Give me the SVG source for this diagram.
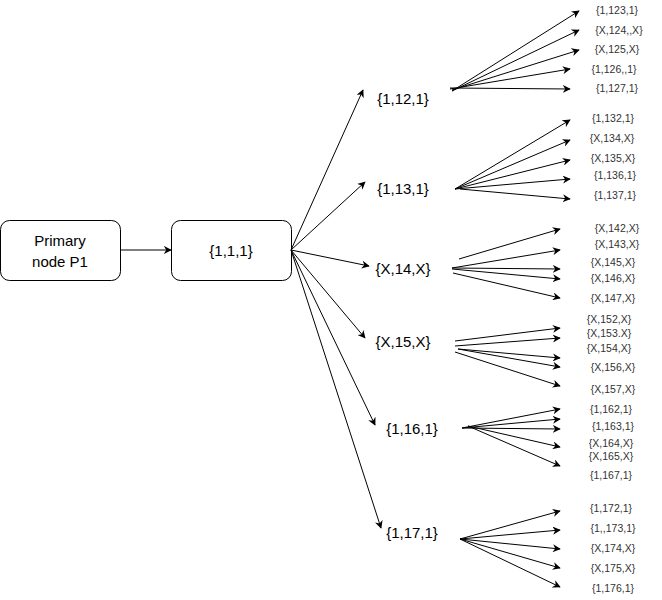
<svg xmlns="http://www.w3.org/2000/svg" width="662" height="600" viewBox="0 0 662 600">
<style>
.b{fill:#fff;stroke:#000;stroke-width:1}
.t{font-family:"Liberation Sans",Arial,sans-serif;font-size:15px;fill:#000;text-anchor:middle;dominant-baseline:central}
.s{font-family:"Liberation Sans",Arial,sans-serif;font-size:10.5px;fill:#333;text-anchor:middle;dominant-baseline:central}
.c line{stroke:#000;stroke-width:1;marker-end:url(#a)}
</style>
<defs><marker id="a" viewBox="0 0 10 10" refX="9" refY="5" markerWidth="8" markerHeight="8" markerUnits="userSpaceOnUse" orient="auto"><path d="M0,0 L10,5 L0,10 L3,5 Z" fill="#000"/></marker></defs>
<rect width="662" height="600" fill="#fff"/>
<g id="p1"><rect class="b" x="0.5" y="220.5" width="120" height="60" rx="9"/><text class="t" x="60" y="240">Primary</text><text class="t" x="60" y="261">node P1</text></g>
<g id="n111"><rect class="b" x="171.5" y="220.5" width="120" height="60" rx="9"/><text class="t" x="231" y="250">{1,1,1}</text></g>
<g id="l2">
<text class="t" x="403" y="98">{1,12,1}</text>
<text class="t" x="403" y="188">{1,13,1}</text>
<text class="t" x="403" y="268">{X,14,X}</text>
<text class="t" x="403" y="341">{X,15,X}</text>
<text class="t" x="412" y="428">{1,16,1}</text>
<text class="t" x="412" y="532">{1,17,1}</text>
</g>
<g id="l3">
<text class="s" x="617" y="10">{1,123,1}</text><text class="s" x="619" y="30">{X,124,,X}</text><text class="s" x="617" y="49">{X,125,X}</text><text class="s" x="614" y="69">{1,126,,1}</text><text class="s" x="617" y="88">{1,127,1}</text>
<text class="s" x="613" y="118">{1,132,1}</text><text class="s" x="612" y="138">{X,134,X}</text><text class="s" x="613" y="158">{X,135,X}</text><text class="s" x="615" y="175">{1,136,1}</text><text class="s" x="615" y="195">{1,137,1}</text>
<text class="s" x="617" y="228">{X,142,X}</text><text class="s" x="617" y="244">{X,143,X}</text><text class="s" x="613" y="262">{X,145,X}</text><text class="s" x="613" y="278">{X,146,X}</text><text class="s" x="613" y="298">{X,147,X}</text>
<text class="s" x="609" y="319">{X,152,X}</text><text class="s" x="609" y="333">{X,153.X}</text><text class="s" x="609" y="348">{X,154,X}</text><text class="s" x="613" y="367">{X,156,X}</text><text class="s" x="613" y="389">{X,157,X}</text>
<text class="s" x="611" y="409">{1,162,1}</text><text class="s" x="613" y="426">{1,163,1}</text><text class="s" x="611" y="443">{X,164,X}</text><text class="s" x="611" y="456">{X,165,X}</text><text class="s" x="611" y="475">{1,167,1}</text>
<text class="s" x="611" y="508">{1,172,1}</text><text class="s" x="613" y="528">{1,,173,1}</text><text class="s" x="613" y="548">{X,174,X}</text><text class="s" x="613" y="568">{X,175,X}</text><text class="s" x="613" y="588">{1,176,1}</text>
</g>
<g class="c" id="connectors">
<line x1="121" y1="250" x2="171" y2="250"/>
<line x1="291" y1="250" x2="363" y2="90"/>
<line x1="291" y1="250" x2="365" y2="182"/>
<line x1="291" y1="250" x2="369" y2="266"/>
<line x1="291" y1="250" x2="365" y2="338"/>
<line x1="291" y1="250" x2="375" y2="425"/>
<line x1="291" y1="250" x2="381" y2="528"/>
<line x1="452" y1="91" x2="579" y2="11"/><line x1="452" y1="91" x2="579" y2="30"/><line x1="452" y1="90" x2="579" y2="50"/><line x1="450" y1="89" x2="570" y2="69"/><line x1="450" y1="88" x2="570" y2="89"/>
<line x1="455" y1="189" x2="570" y2="120"/><line x1="455" y1="189" x2="570" y2="140"/><line x1="455" y1="189" x2="570" y2="160"/><line x1="455" y1="189" x2="570" y2="179"/><line x1="460" y1="189" x2="570" y2="199"/>
<line x1="459" y1="259" x2="560" y2="229"/><line x1="452" y1="268" x2="560" y2="250"/><line x1="452" y1="268" x2="560" y2="269"/><line x1="452" y1="269" x2="560" y2="279"/><line x1="453" y1="273" x2="560" y2="298"/>
<line x1="455" y1="341" x2="560" y2="328"/><line x1="455" y1="346" x2="560" y2="338"/><line x1="458" y1="349" x2="560" y2="358"/><line x1="458" y1="349" x2="560" y2="367"/><line x1="455" y1="352" x2="560" y2="386"/>
<line x1="462" y1="428" x2="560" y2="409"/><line x1="462" y1="428" x2="560" y2="419"/><line x1="462" y1="428" x2="560" y2="429"/><line x1="468" y1="426" x2="560" y2="447"/><line x1="468" y1="426" x2="560" y2="466"/>
<line x1="460" y1="539" x2="560" y2="511"/><line x1="460" y1="539" x2="560" y2="530"/><line x1="460" y1="539" x2="560" y2="549"/><line x1="460" y1="539" x2="560" y2="568"/><line x1="460" y1="539" x2="560" y2="587"/>
</g>
</svg>
